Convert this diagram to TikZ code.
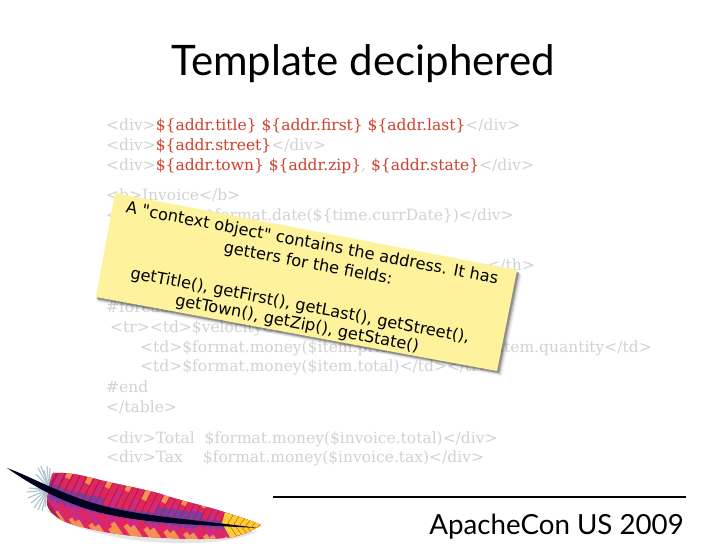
\documentclass[tikz,border=0pt]{standalone}
\usepackage{fontspec}
\usetikzlibrary{calc}
\setmainfont{Lato}
\newfontfamily\codefont{DejaVu Serif}
\newfontfamily\notefont{DejaVu Sans}
\definecolor{codegray}{HTML}{D2D2D2}
\definecolor{codered}{HTML}{CF3F2B}
\definecolor{noteyellow}{HTML}{FEF39C}
\definecolor{fcrim}{HTML}{E0265C}
\definecolor{fmag}{HTML}{CE2A80}
\definecolor{fpur}{HTML}{7B3FA2}
\definecolor{forg}{HTML}{F88F52}
\definecolor{fsep}{HTML}{B01C4C}
\definecolor{ftuft}{HTML}{A9C3CF}
\tikzset{
  codeline/.style={anchor=base west,inner sep=0pt,font=\codefont\fontsize{15.5}{17}\selectfont,text=codegray},
  noteline/.style={rotate=-10.8,inner sep=0pt,font=\notefont\fontsize{16.2}{18}\selectfont,text=black},
  bigt/.style={inner sep=0pt,anchor=base,text=black},
  tuft/.style={ftuft,line width=1.1pt},
}
\newcommand{\rd}[1]{\textcolor{codered}{#1}}
\begin{document}
\begin{tikzpicture}[x=1pt,y=-1pt]
\useasboundingbox (0,0) rectangle (728,546);
\fill[white] (0,0) rectangle (728,546);
\node[bigt,font=\fontsize{42}{48}\selectfont] (title) at (363,75) {Template deciphered};
% code
\node[codeline] (c1) at (106,130) {<div>\rd{\$\{addr.title\} \$\{addr.first\} \$\{addr.last\}}</div>};
\node[codeline] (c2) at (106,150) {<div>\rd{\$\{addr.street\}}</div>};
\node[codeline] (c3) at (106,170) {<div>\rd{\$\{addr.town\} \$\{addr.zip\}}, \rd{\$\{addr.state\}}</div>};
\node[codeline] (c4) at (106,200) {<b>Invoice</b>};
\node[codeline] (c5) at (106,220) {<div>Date: \$format.date(\$\{time.currDate\})</div>};
\node[codeline,anchor=base east] (c6) at (535,270) {</th>};
\node[codeline] (c7) at (106,312) {\#foreach (\$item in \$invoice.items)};
\node[codeline] (c8) at (110,332) {<tr><td>\$velocityCount</td>};
\node[codeline] (c9) at (140,352) {<td>\$format.money(\$item.price)</td>};
\node[codeline,anchor=base east] (c9b) at (652,352) {<td>\$item.quantity</td>};
\node[codeline] (c10) at (140,371) {<td>\$format.money(\$item.total)</td></tr>};
\node[codeline] (c11) at (106,392) {\#end};
\node[codeline] (c12) at (106,412) {</table>};
\node[codeline] (c13) at (106,443) {<div>Total\hspace{10pt}\$format.money(\$invoice.total)</div>};
\node[codeline] (c14) at (106,462) {<div>Tax\hspace{20pt}\$format.money(\$invoice.tax)</div>};
% note shadow
\foreach \d/\o in {5/.05,4/.08,3/.14,2/.25}{
  \fill[black,opacity=\o] (115+\d*.3,193+\d) -- (517+\d,270+\d) -- (497+\d,371+\d) -- (96+\d*.3,297+\d) -- cycle;
}
\fill[noteyellow] (115,193) coordinate (nw) -- (517,270) coordinate (ne) -- (497,371) coordinate (se) -- (96,297) coordinate (sw) -- cycle;
\node[noteline] (n1) at (312,244) {A "context object" contains the address. It has};
\node[noteline] (n2) at (308,264) {getters for the fields:};
\node[noteline] (n3) at (300,306) {getTitle(), getFirst(), getLast(), getStreet(),};
\node[noteline] (n4) at (297,324) {getTown(), getZip(), getState()};
% footer
\draw[black,line width=1.8pt] (273,497) coordinate (ruleL) -- (686,497) coordinate (ruleR);
\node[bigt,anchor=base east,font=\fontsize{27.7}{34}\selectfont] (apachecon) at (684,534) {ApacheCon US 2009};
% feather: soft shadow
\fill[black!10] (46,510) .. controls (70,530) and (120,541) .. (170,543) .. controls (210,544) and (240,540) .. (258,531) -- (230,535) -- (100,530) -- cycle;
% downy tuft
\foreach \ex/\ey in {38/468,41/466,44/470,47/466,50/468,52/474,36/474}{
  \draw[tuft] (49,488) -- (\ex,\ey);
}
\foreach \ex/\ey in {27/492,28/498,31/503,34/508,38/510,42/511,45/507,29/488,35/488}{
  \draw[tuft] (47,490) -- (\ex,\ey);
}
% vane
\begin{scope}
\clip (53,473) .. controls (70,472) and (85,476) .. (100,480) .. controls (130,487) and (150,490) .. (167,496) .. controls (190,503) and (210,507) .. (227,513) .. controls (240,517) and (250,520) .. (261,525) .. controls (250,533) and (240,535) .. (233,537) .. controls (210,540) and (190,539) .. (167,538) .. controls (140,537) and (120,535) .. (100,531) .. controls (80,527) and (65,523) .. (58,518) .. controls (50,512) and (46,508) .. (47,500) .. controls (48,490) and (50,480) .. (53,473) -- cycle;
\fill[fsep] (40,465) rectangle (265,545);
\foreach \i in {0,...,31}{
  \pgfmathsetmacro{\sx}{44+6.6*\i}
  \pgfmathsetmacro{\uu}{max((\sx-43)/214,0.001)}
  \pgfmathsetmacro{\sy}{488+40*sqrt(\uu)}
  \pgfmathsetmacro{\kk}{int(mod(\i,3))}
  \ifnum\kk=1 \def\ca{fmag}\def\cc{fcrim}\else\def\ca{fcrim}\def\cc{forg}\fi
  \ifnum\kk=2 \def\cb{forg}\def\cd{fcrim}\else\def\cb{fcrim}\def\cd{fmag}\fi
  % upper barb towards the tip
  \pgfmathsetmacro{\pfr}{(\i>16 && \i<24) ? .2 : ((\i<9) ? .22 : .08)}
  \pgfmathsetmacro{\ofr}{(\i>11) ? .3 : .42}
  \coordinate (ua) at (\sx,\sy);
  \coordinate (ub) at ($(ua)+(24*\pfr,-48*\pfr)$);
  \coordinate (uc) at ($(ua)+(24*\ofr,-48*\ofr)$);
  \coordinate (ud) at ($(ua)+(24,-48)$);
  \draw[fpur,line width=5.2pt] (ua) -- (ub);
  \draw[\ca,line width=5.2pt] (ub) -- (uc);
  \draw[\cb,line width=5.2pt] (uc) -- (ud);
  % lower barb towards the tip
  \pgfmathsetmacro{\lfr}{(\i>14 && \i<23) ? .22 : .14}
  \pgfmathsetmacro{\mfr}{(\i>8) ? .42 : .62}
  \coordinate (lb) at ($(ua)+(22*\lfr,32*\lfr)$);
  \coordinate (lc) at ($(ua)+(22*\mfr,32*\mfr)$);
  \coordinate (ld) at ($(ua)+(22,32)$);
  \draw[fpur,line width=5.2pt] (ua) -- (lb);
  \draw[\cd,line width=5.2pt] (lb) -- (lc);
  \draw[\cc,line width=5.2pt] (lc) -- (ld);
}
\fill[yellow!55!orange!80] (226,508) -- (265,522) -- (262,532) -- (232,541) -- (222,523) -- cycle;
\foreach \j in {0,...,5}{
  \draw[orange!80!black,line width=.5pt] (228+6*\j,523+\j*.8) -- (240+6*\j,505+\j*2);
  \draw[orange!80!black,line width=.5pt] (228+6*\j,523+\j*.8) -- (240+6*\j,541);
}
\end{scope}
% shaft
\fill[black!88!blue] (7,468) .. controls (30,476) and (60,494) .. (100,505) .. controls (140,516) and (190,519) .. (258,528) .. controls (190,524.5) and (140,523) .. (98,512) .. controls (60,502) and (30,484) .. (7,468) -- cycle;
\end{tikzpicture}
\end{document}
